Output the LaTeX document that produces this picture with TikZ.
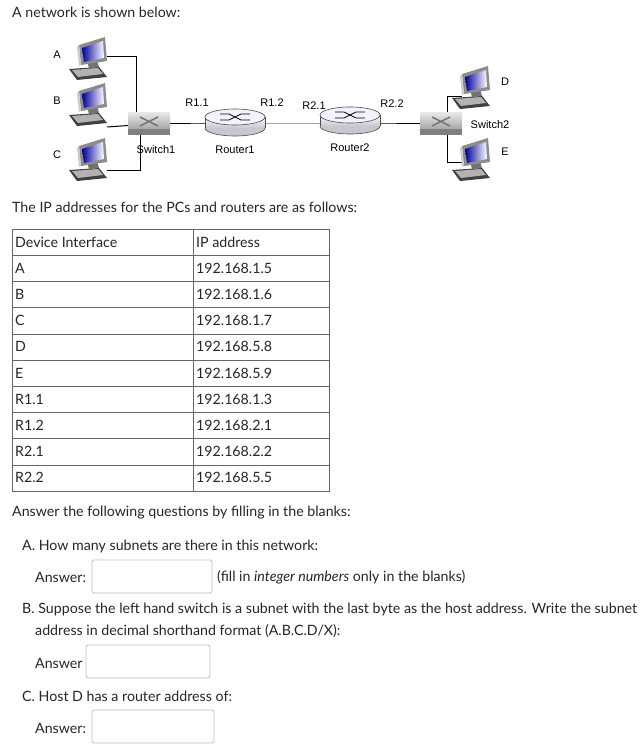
\documentclass[tikz,border=0pt]{standalone}
\usepackage{fontspec}
\setmainfont{Lato}
\newfontfamily\arialf{Liberation Sans}
\usetikzlibrary{calc}
\begin{document}
\begin{tikzpicture}[x=1pt,y=-1pt,
  txt/.style={anchor=west,inner sep=0pt,font=\fontsize{14.2}{16}\selectfont,text=black!85},
  lbl/.style={inner sep=0pt,font=\arialf\fontsize{11}{13}\selectfont},
  wire/.style={line width=1pt,black},
  cell/.style={draw=black!60,line width=0.6pt},
  ansbox/.style={draw=black!25,line width=0.8pt,rounded corners=1.5pt},
  pc/.pic={
    \fill[black!75] (-24,12) -- (6,10) -- (14,20) -- (-16,23) -- cycle;
    \fill[black!30] (-21,13) -- (5,11) -- (10,17) -- (-15,20) -- cycle;
    \fill[black!55] (-6,4) -- (4,3) -- (6,10) -- (-4,11) -- cycle;
    \fill[black!45] (-14,-12) -- (12,-20) -- (14,4) -- (-12,8) -- cycle;
    \fill[black!20] (-14,-12) -- (-16,-10) -- (-14,9) -- (-12,8) -- cycle;
    \shade[left color=blue!60!black,right color=white] (-11,-9) -- (10,-16) -- (11,1) -- (-9,5) -- cycle;
  },
  router/.pic={
    \fill[blue!12!black!22] (0,6) ellipse[x radius=30,y radius=8];
    \shade[top color=white,bottom color=blue!12!black!22] (-30,-5) rectangle (30,6);
    \draw[black!70,line width=0.6pt] (-30,-5) -- (-30,6) (30,-5) -- (30,6);
    \draw[black!70,line width=0.6pt] (-30,6) arc[start angle=180,end angle=360,x radius=30,y radius=-8];
    \fill[blue!5,draw=black!70,line width=0.6pt] (0,-5) ellipse[x radius=30,y radius=8];
    \draw[line width=0.7pt] (-15,-8) -- (-6,-8) -- (6,-2) -- (15,-2) (-15,-2) -- (-6,-2) -- (6,-8) -- (15,-8);
  },
  switchp/.pic={
    \fill[black!50] (-21,5) rectangle (21,11);
    \shade[top color=black!10,bottom color=black!35] (-21,-11) rectangle (21,5);
    \draw[black!55,line width=1.5pt] (-9,-7) -- (9,2) (-9,2) -- (9,-7);
  }]
\useasboundingbox (0,0) rectangle (644,749);
\fill[white] (0,0) rectangle (644,749);

\node[txt] (t0) at (12,12) {A network is shown below:};

\coordinate (s1) at (149,124);
\coordinate (r1) at (235,122);
\coordinate (r2) at (350,120);
\coordinate (s2) at (441,124);
\coordinate (pa) at (93,57);
\coordinate (pb) at (93,103);
\coordinate (pc) at (93,158);
\coordinate (pd) at (476,86);
\coordinate (pe) at (476,158);

\draw[wire] (pa)++(14,0) -- (136,57) -- (136,124);
\draw[wire] (pb)++(14,24) -- (s1);
\draw[wire] (pc)++(14,12) -- (140,170) -- (140,124);
\draw[wire] (s1) -- (235,124) -- (350,124) -- (s2);
\draw[wire] (462,97) -- (447,97) -- (447,162) -- (462,162);

\pic at (pa) {pc};
\pic at (pb) {pc};
\pic at (pc) {pc};
\pic at (pd) {pc};
\pic at (pe) {pc};
\pic at (s1) {switchp};
\pic at (s2) {switchp};
\pic at (r1) {router};
\pic at (r2) {router};

\node[lbl] (la) at (57,55) {A};
\node[lbl] (lb) at (57,101) {B};
\node[lbl] (lc) at (57,155) {C};
\node[lbl] (ld) at (505,82) {D};
\node[lbl] (le) at (505,152) {E};
\node[lbl] (ls1) at (156,150) {Switch1};
\node[lbl] (ls2) at (490,125) {Switch2};
\node[lbl] (lr1) at (235,150) {Router1};
\node[lbl] (lr2) at (350,148) {Router2};
\node[lbl] (l11) at (197,103) {R1.1};
\node[lbl] (l12) at (272,103) {R1.2};
\node[lbl] (l21) at (314,106) {R2.1};
\node[lbl] (l22) at (392,104) {R2.2};

\node[txt] (t1) at (12,207) {The IP addresses for the PCs and routers are as follows:};

\foreach \i/\a/\b in {0/Device Interface/IP address,1/A/192.168.1.5,2/B/192.168.1.6,3/C/192.168.1.7,4/D/192.168.5.8,5/E/192.168.5.9,6/R1.1/192.168.1.3,7/R1.2/192.168.2.1,8/R2.1/192.168.2.2,9/R2.2/192.168.5.5}{
  \draw[cell] (12,229+26.2*\i) rectangle (193,229+26.2*\i+26.2);
  \draw[cell] (193,229+26.2*\i) rectangle (329,229+26.2*\i+26.2);
  \node[txt] (ta\i) at (15,229+26.2*\i+13.1) {\a};
  \node[txt] (tb\i) at (196,229+26.2*\i+13.1) {\b};
}

\node[txt] (t2) at (12,513) {Answer the following questions by filling in the blanks:};
\node[txt] (t3) at (22,546) {A. How many subnets are there in this network:};
\node[txt] (t4) at (35,577) {Answer:};
\draw[ansbox] (92,560) rectangle (212,593);
\node[txt] (t5) at (217,577) {(fill in \textit{integer numbers} only in the blanks)};
\node[txt] (t6) at (22,609) {B. Suppose the left hand switch is a subnet with the last byte as the host address. Write the subnet};
\node[txt] (t7) at (35,631) {address in decimal shorthand format (A.B.C.D/X):};
\node[txt] (t8) at (35,663) {Answer};
\draw[ansbox] (86,645) rectangle (210,678);
\node[txt] (t9) at (22,696) {C. Host D has a router address of:};
\node[txt] (t10) at (35,728) {Answer:};
\draw[ansbox] (92,710) rectangle (214,743);
\end{tikzpicture}
\end{document}
